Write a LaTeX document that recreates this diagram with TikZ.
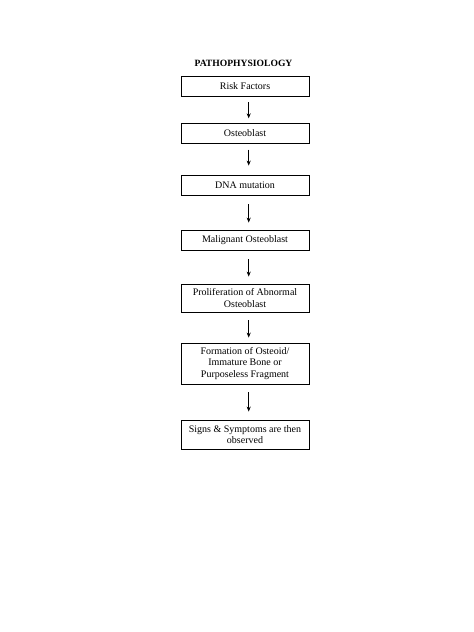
\documentclass[tikz,border=0pt]{standalone}
\usepackage{fontspec}
\setmainfont{Liberation Serif}
\usetikzlibrary{arrows.meta}
\begin{document}
\begin{tikzpicture}[x=1pt,y=-1pt,
  stepbox/.style={draw=black, line width=0.8pt, minimum width=128pt, inner sep=1pt,
    align=center, font=\fontsize{10}{11.5}\selectfont},
  arr/.style={line width=0.8pt, -{Stealth[length=5pt,width=4pt]}},
  titletext/.style={font=\fontsize{9.6}{11}\selectfont\bfseries}]
\useasboundingbox[fill=white] (0,0) rectangle (474,632);
\node[titletext] (title) at (243.5,63) {PATHOPHYSIOLOGY};
\node[stepbox, minimum height=20pt] (risk) at (245,86) {Risk Factors};
\node[stepbox, minimum height=19.5pt] (osteo) at (245,133.5) {Osteoblast};
\node[stepbox, minimum height=20pt] (dna) at (245,185) {DNA mutation};
\node[stepbox, minimum height=20pt] (malig) at (245,240) {Malignant Osteoblast};
\node[stepbox, minimum height=28pt] (prolif) at (245,298) {Proliferation of Abnormal\\Osteoblast};
\node[stepbox, minimum height=41pt] (form) at (245,363.5) {Formation of Osteoid/\\Immature Bone or\\Purposeless Fragment};
\node[stepbox, minimum height=29pt] (signs) at (245,434.5) {Signs \& Symptoms are then\\observed};
\draw[arr, shorten <=6pt, shorten >=5pt] ([xshift=3.7pt]risk.south) -- ([xshift=3.7pt]osteo.north);
\draw[arr, shorten <=6pt, shorten >=9pt] ([xshift=3.7pt]osteo.south) -- ([xshift=3.7pt]dna.north);
\draw[arr, shorten <=9pt, shorten >=7pt] ([xshift=3.7pt]dna.south) -- ([xshift=3.7pt]malig.north);
\draw[arr, shorten <=9pt, shorten >=7pt] ([xshift=3.7pt]malig.south) -- ([xshift=3.7pt]prolif.north);
\draw[arr, shorten <=8pt, shorten >=5pt] ([xshift=3.7pt]prolif.south) -- ([xshift=3.7pt]form.north);
\draw[arr, shorten <=8pt, shorten >=8pt] ([xshift=3.7pt]form.south) -- ([xshift=3.7pt]signs.north);
\end{tikzpicture}
\end{document}
